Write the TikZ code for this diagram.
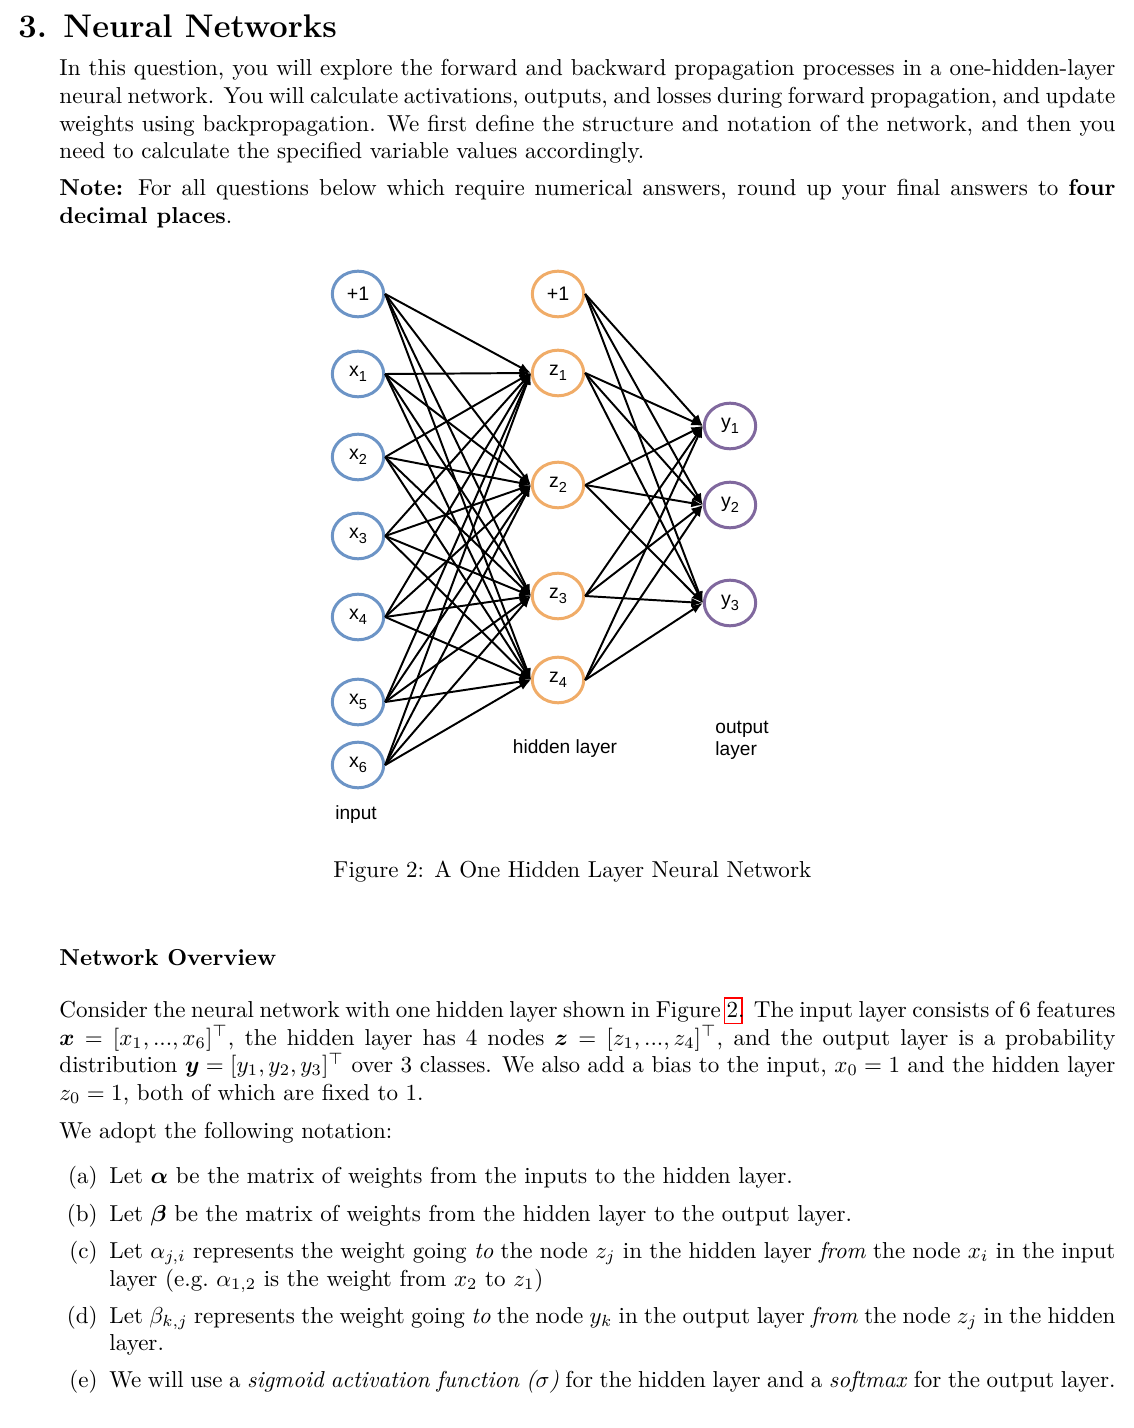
\documentclass[tikz,border=0pt]{standalone}
\usepackage{amsmath,amssymb}
\usepackage{fontspec}
\newfontfamily\nnfont{Liberation Sans}
\usetikzlibrary{shapes.geometric,arrows.meta}
\definecolor{inblue}{RGB}{108,148,198}
\definecolor{hidorange}{RGB}{240,172,104}
\definecolor{outpurple}{RGB}{128,104,158}
\newcommand{\nsub}[1]{\raisebox{-0.45ex}{\fontsize{6.3}{6.3}\selectfont #1}}
\newcommand{\fullline}[1]{\makebox[458.3pt][s]{#1}}
\newcommand{\itemline}[1]{\makebox[436.6pt][s]{#1}}
\newcommand{\figlink}[1]{\rlap{\kern-1pt\textcolor{red}{\setlength{\fboxsep}{0pt}\setlength{\fboxrule}{0.5pt}\fbox{\rule{0pt}{8pt}\rule[-2.5pt]{0pt}{2.5pt}\kern1pt\phantom{#1}\kern1pt}}}#1}
\tikzset{
  neuron/.style={
    shape = ellipse,
    draw,
    fill = white,
    line width = 1.3pt,
    minimum width = 22.3pt,
    minimum height = 19.8pt,
    inner sep = 0pt,
    font = \nnfont\fontsize{8.5}{10}\selectfont
  },
  inneuron/.style={neuron, draw=inblue},
  hidneuron/.style={neuron, draw=hidorange},
  outneuron/.style={neuron, draw=outpurple},
  link/.style={
    line width = 0.85pt,
    -{Latex[length=5pt,width=3.8pt]}
  },
  layername/.style={
    inner sep = 0pt,
    font = \nnfont\fontsize{8.3}{9.6}\selectfont
  },
  textline/.style={
    anchor = base west,
    inner sep = 0pt
  }
}

\begin{document}
\begin{tikzpicture}[x=0.434pt,y=-0.434pt]
  \useasboundingbox (0,0) rectangle (1134,1428);
  % heading and first paragraphs
  \node[textline,font=\fontsize{14.2}{16}\selectfont\bfseries] (title) at (18,37.5) {3. Neural Networks};
  \node[textline] (p1) at (59,76) {\fullline{In this question, you will explore the forward and backward propagation processes in a one-hidden-layer}};
  \node[textline] (p2) at (59,104) {\fullline{neural network. You will calculate activations, outputs, and losses during forward propagation, and update}};
  \node[textline] (p3) at (59,131.5) {\fullline{weights using backpropagation. We first define the structure and notation of the network, and then you}};
  \node[textline] (p4) at (59,159) {need to calculate the specified variable values accordingly.};
  \node[textline] (n1) at (59,196) {\fullline{\textbf{Note:} For all questions below which require numerical answers, round up your final answers to \textbf{four}}};
  \node[textline] (n2) at (59,224) {\textbf{decimal places}.};

  % the network
  \node[inneuron] (x0) at (358,294) {+1};
  \node[inneuron] (x1) at (358,374) {x\nsub{1}};
  \node[inneuron] (x2) at (358,457) {x\nsub{2}};
  \node[inneuron] (x3) at (358,536) {x\nsub{3}};
  \node[inneuron] (x4) at (358,617) {x\nsub{4}};
  \node[inneuron] (x5) at (358,702) {x\nsub{5}};
  \node[inneuron] (x6) at (358,765) {x\nsub{6}};
  \node[hidneuron] (z0) at (558,294) {+1};
  \node[hidneuron] (z1) at (558,373) {z\nsub{1}};
  \node[hidneuron] (z2) at (558,485) {z\nsub{2}};
  \node[hidneuron] (z3) at (558,596) {z\nsub{3}};
  \node[hidneuron] (z4) at (558,680) {z\nsub{4}};
  \node[outneuron] (y1) at (730,426) {y\nsub{1}};
  \node[outneuron] (y2) at (730,505) {y\nsub{2}};
  \node[outneuron] (y3) at (730,603) {y\nsub{3}};
  \foreach \i in {0,...,6}
    \foreach \j in {1,...,4}
      \draw[link] (x\i.east) -- (z\j.west);
  \foreach \j in {0,...,4}
    \foreach \k in {1,2,3}
      \draw[link] (z\j.east) -- (y\k.west);
  \node[layername] (inlabel) at (356,815) {input};
  \node[layername] (hidlabel) at (565,749) {hidden layer};
  \node[layername,anchor=west,align=left] (outlabel) at (715,740) {output\\layer};
  \node[textline] (caption) at (333,877) {Figure 2: A One Hidden Layer Neural Network};

  % overview
  \node[textline,font=\bfseries] (overview) at (59,965) {Network Overview};
  \node[textline] (c1) at (59,1017) {\fullline{Consider the neural network with one hidden layer shown in Figure \figlink{2}. The input layer consists of 6 features}};
  \node[textline] (c2) at (59,1045) {\fullline{$\boldsymbol{x} = [x_1, ..., x_6]^\top$, the hidden layer has 4 nodes $\boldsymbol{z} = [z_1, ..., z_4]^\top$, and the output layer is a probability}};
  \node[textline] (c3) at (59,1072.5) {\fullline{distribution $\boldsymbol{y} = [y_1, y_2, y_3]^\top$ over 3 classes. We also add a bias to the input, $x_0 = 1$ and the hidden layer}};
  \node[textline] (c4) at (59,1100) {$z_0 = 1$, both of which are fixed to 1.};
  \node[textline] (adopt) at (59,1138) {We adopt the following notation:};

  % notation list
  \node[anchor=base east,inner sep=0pt] (la) at (98,1183) {(a)};
  \node[textline] (ia) at (109,1183) {Let $\boldsymbol{\alpha}$ be the matrix of weights from the inputs to the hidden layer.};
  \node[anchor=base east,inner sep=0pt] (lb) at (98,1221) {(b)};
  \node[textline] (ib) at (109,1221) {Let $\boldsymbol{\beta}$ be the matrix of weights from the hidden layer to the output layer.};
  \node[anchor=base east,inner sep=0pt] (lc) at (98,1258) {(c)};
  \node[textline] (ic1) at (109,1258) {\itemline{Let $\alpha_{j,i}$ represents the weight going \emph{to} the node $z_j$ in the hidden layer \emph{from} the node $x_i$ in the input}};
  \node[textline] (ic2) at (109,1286) {layer (e.g.\ $\alpha_{1,2}$ is the weight from $x_2$ to $z_1$)};
  \node[anchor=base east,inner sep=0pt] (ld) at (98,1323) {(d)};
  \node[textline] (id1) at (109,1323) {\itemline{Let $\beta_{k,j}$ represents the weight going \emph{to} the node $y_k$ in the output layer \emph{from} the node $z_j$ in the hidden}};
  \node[textline] (id2) at (109,1350) {layer.};
  \node[anchor=base east,inner sep=0pt] (le) at (98,1387) {(e)};
  \node[textline] (ie) at (109,1387) {\itemline{We will use a \emph{sigmoid activation function ($\sigma$)} for the hidden layer and a \emph{softmax} for the output layer.}};
\end{tikzpicture}
\end{document}
